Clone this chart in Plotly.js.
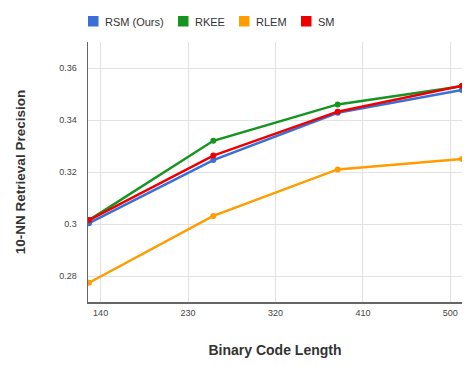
<!DOCTYPE html>
<html><head><meta charset="utf-8">
<script src="https://cdn.plot.ly/plotly-3.0.1.min.js"></script>
<style>html,body{margin:0;padding:0;background:#fff}#chart{width:474px;height:366px}</style>
</head><body><div id="chart"></div>
<script>
const codeLengths = [128, 256, 384, 512];
const seriesNames = ['RSM (Ours)', 'RKEE', 'RLEM', 'SM'];
const rsm  = [0.3003, 0.3246, 0.3428, 0.3515];
const rkee = [0.3015, 0.3320, 0.3460, 0.3530];
const rlem = [0.2774, 0.3031, 0.3210, 0.3250];
const sm   = [0.3015, 0.3263, 0.3432, 0.3532];
const xTicks = [140, 230, 320, 410, 500];
const yTicks = [0.28, 0.30, 0.32, 0.34, 0.36];
const yTickText = ['0.28', '0.3', '0.32', '0.34', '0.36'];
const colors = ['#3a6fd8', '#15941f', '#ff9c00', '#ee0000'];
const values = [rsm, rkee, rlem, sm];
const order = [2, 0, 1, 3];

const traces = [];
order.forEach(i => {
  traces.push({
    x: codeLengths, y: values[i], type: 'scatter', mode: 'lines+markers',
    name: seriesNames[i], showlegend: false,
    line: {color: colors[i], width: 2.5},
    marker: {color: colors[i], size: 6}
  });
});

// custom legend (pixel layout converted to paper coords)
const W = 474, H = 366, mL = 88, mR = 12, mT = 42, mB = 64;
const pw = W - mL - mR, ph = H - mT - mB;
const px = v => (v - mL) / pw;
const py = v => (H - mB - v) / ph;
const legendX = [88, 178, 239, 301];
const shapes = [], annotations = [];
seriesNames.forEach((n, i) => {
  shapes.push({type: 'rect', xref: 'paper', yref: 'paper',
    x0: px(legendX[i]), x1: px(legendX[i] + 10.5), y0: py(26.5), y1: py(16),
    fillcolor: colors[i], line: {width: 0}});
  annotations.push({xref: 'paper', yref: 'paper', x: px(legendX[i] + 14.5), y: py(21.5),
    xanchor: 'left', yanchor: 'middle', showarrow: false, text: n,
    font: {size: 11, color: '#333'}});
});

const layout = {
  width: W, height: H,
  margin: {l: mL, r: mR, t: mT, b: mB},
  paper_bgcolor: '#fff', plot_bgcolor: '#fff',
  font: {family: 'Arial, "Liberation Sans", sans-serif', color: '#333', size: 9},
  showlegend: false,
  shapes: shapes, annotations: annotations,
  xaxis: {
    range: [127, 512], tickvals: xTicks, ticktext: xTicks.map(String),
    showgrid: true, gridcolor: '#e2e2e2', gridwidth: 1,
    showline: true, linecolor: '#666', linewidth: 1.5, zeroline: false,
    ticks: 'outside', ticklen: 2, tickcolor: 'rgba(0,0,0,0)', tickfont: {size: 9, color: '#444'},
    title: {text: '<b>Binary Code Length</b>', font: {size: 14, color: '#333'}, standoff: 28}
  },
  yaxis: {
    range: [0.27, 0.37], tickvals: yTicks, ticktext: yTickText,
    showgrid: true, gridcolor: '#e2e2e2', gridwidth: 1,
    showline: true, linecolor: '#666', linewidth: 1.5, zeroline: false,
    ticks: 'outside', ticklen: 8, tickcolor: 'rgba(0,0,0,0)', tickfont: {size: 9, color: '#444'},
    title: {text: '<b>10-NN Retrieval Precision</b>', font: {size: 13.5, color: '#333'}, standoff: 30}
  }
};
Plotly.newPlot('chart', traces, layout, {displayModeBar: false, staticPlot: true});
</script></body></html>
